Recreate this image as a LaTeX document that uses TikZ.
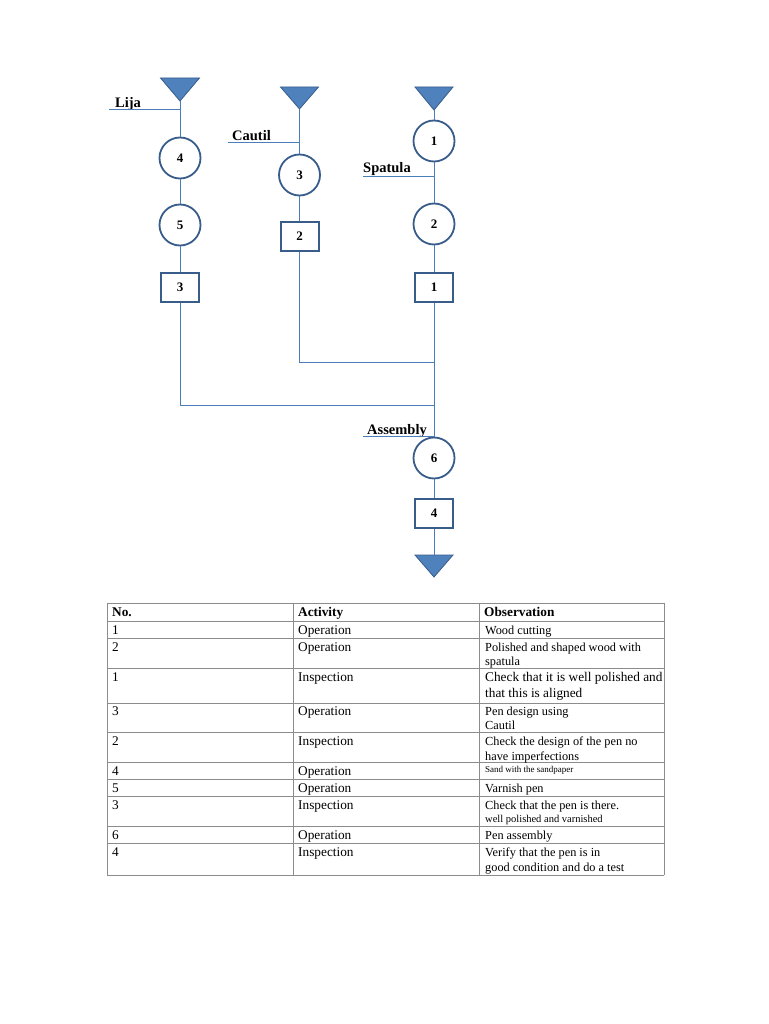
\documentclass[tikz,border=0pt]{standalone}
\usepackage{fontspec}
\setmainfont{Liberation Serif}
\definecolor{lineblue}{HTML}{4A7EBB}
\definecolor{darkblue}{HTML}{385D8A}
\definecolor{fillblue}{HTML}{4F81BD}
\definecolor{gridgray}{HTML}{8C8C8C}
\begin{document}
\begin{tikzpicture}[x=1pt,y=-1pt,
  conn/.style={draw=lineblue, line width=1pt},
  opcircle/.style={circle, draw=darkblue, line width=1.8pt, minimum size=41pt, inner sep=0pt, fill=white, font=\bfseries\fontsize{13}{15}\selectfont},
  inspbox/.style={rectangle, draw=darkblue, line width=2pt, minimum width=38pt, minimum height=29pt, inner sep=0pt, fill=white, font=\bfseries\fontsize{13}{15}\selectfont},
  storetri/.style={fill=fillblue, draw=darkblue, line width=0.8pt, line join=miter},
  lbl/.style={anchor=base west, inner sep=0pt, font=\bfseries\fontsize{14.5}{16}\selectfont},
  cell/.style={anchor=base west, inner sep=0pt, font=\fontsize{13.3}{15}\selectfont},
  obs/.style={anchor=base west, inner sep=0pt, font=\fontsize{12.3}{14}\selectfont},
  head/.style={cell, font=\bfseries\fontsize{13.3}{15}\selectfont},
  grid/.style={draw=gridgray, line width=0.9pt}
]
\useasboundingbox[fill=white] (0,0) rectangle (768,1024);

% ---------- storage triangles ----------
\fill[storetri] (160.5,78) -- (199.5,78) -- (180,101) -- cycle;
\coordinate (t1) at (180,101);
\fill[storetri] (280.5,87) -- (318.5,87) -- (299.5,109) -- cycle;
\coordinate (t2) at (299.5,109);
\fill[storetri] (415,87) -- (453,87) -- (434,110) -- cycle;
\coordinate (t3) at (434,110);
\fill[storetri] (415,555) -- (453,555) -- (434,577) -- cycle;
\coordinate (t4) at (434,555);

% ---------- symbols ----------
\node[opcircle] (c4) at (180,158) {4};
\node[opcircle] (c5) at (180,225) {5};
\node[inspbox]  (s3) at (180,287) {3};

\node[opcircle] (c3) at (299.5,175) {3};
\node[inspbox]  (s2) at (299.5,236.5) {2};

\node[opcircle] (c1) at (434,141) {1};
\node[opcircle] (c2) at (434,224) {2};
\node[inspbox]  (s1) at (434,287) {1};

\node[opcircle] (c6) at (434,458) {6};
\node[inspbox]  (s4) at (434,513.5) {4};

% ---------- junction coordinates ----------
\coordinate (j1) at (180,405);
\coordinate (j1r) at (434,405);
\coordinate (j2) at (299.5,362);
\coordinate (j2r) at (434,362);

% ---------- connectors ----------
\draw[conn] (t1) -- (c4.north);
\draw[conn] (c4.south) -- (c5.north);
\draw[conn] (c5.south) -- (s3.north);
\draw[conn] (s3.south) -- (j1) -- (j1r);

\draw[conn] (t2) -- (c3.north);
\draw[conn] (c3.south) -- (s2.north);
\draw[conn] (s2.south) -- (j2) -- (j2r);

\draw[conn] (t3) -- (c1.north);
\draw[conn] (c1.south) -- (c2.north);
\draw[conn] (c2.south) -- (s1.north);
\draw[conn] (s1.south) -- (c6.north);
\draw[conn] (c6.south) -- (s4.north);
\draw[conn] (s4.south) -- (t4);

% ---------- material labels ----------
\node[lbl] (lija) at (115,108) {Lija};
\coordinate (lijaA) at (109,110);
\coordinate (lijaB) at (180,110);
\draw[conn] (lijaA) -- (lijaB);

\node[lbl] (cautil) at (232,141) {Cautil};
\coordinate (cautilA) at (228,143);
\coordinate (cautilB) at (299.5,143);
\draw[conn] (cautilA) -- (cautilB);

\node[lbl] (spatula) at (363,173) {Spatula};
\coordinate (spatA) at (363,177);
\coordinate (spatB) at (434,177);
\draw[conn] (spatA) -- (spatB);

\node[lbl] (assembly) at (367,434) {Assembly};
\coordinate (asmA) at (363,436);
\coordinate (asmB) at (434,436);
\draw[conn] (asmA) -- (asmB);

% ---------- table ----------
\foreach \yy in {603,621,638,668,703,732,762,779,796,826,843,875}
  \draw[grid] (107,\yy) -- (664,\yy);
\foreach \xx in {107,293,479,664}
  \draw[grid] (\xx,603) -- (\xx,875);

\node[head] (h1) at (112,616) {No.};
\node[head] (h2) at (298,616) {Activity};
\node[head] (h3) at (484,616) {Observation};

\node[cell] (r1a) at (112,634) {1};
\node[cell] (r1b) at (298,634) {Operation};
\node[obs]  (r1c) at (485,634) {Wood cutting};

\node[cell] (r2a) at (112,651) {2};
\node[cell] (r2b) at (298,651) {Operation};
\node[obs]  (r2c) at (485,651) {Polished and shaped wood with};
\node[obs]  (r2d) at (485,665) {spatula};

\node[cell] (r3a) at (112,681) {1};
\node[cell] (r3b) at (298,681) {Inspection};
\node[cell] (r3c) at (485,681) {Check that it is well polished and};
\node[cell] (r3d) at (485,697) {that this is aligned};

\node[cell] (r4a) at (112,715) {3};
\node[cell] (r4b) at (298,715) {Operation};
\node[obs]  (r4c) at (485,715) {Pen design using};
\node[obs]  (r4d) at (485,729) {Cautil};

\node[cell] (r5a) at (112,745) {2};
\node[cell] (r5b) at (298,745) {Inspection};
\node[obs]  (r5c) at (485,745) {Check the design of the pen no};
\node[obs]  (r5d) at (485,760) {have imperfections};

\node[cell] (r6a) at (112,775) {4};
\node[cell] (r6b) at (298,775) {Operation};
\node[obs, font=\fontsize{9}{10}\selectfont] (r6c) at (485,772) {Sand with the sandpaper};

\node[cell] (r7a) at (112,792) {5};
\node[cell] (r7b) at (298,792) {Operation};
\node[obs]  (r7c) at (485,792) {Varnish pen};

\node[cell] (r8a) at (112,809) {3};
\node[cell] (r8b) at (298,809) {Inspection};
\node[obs]  (r8c) at (485,809) {Check that the pen is there.};
\node[obs, font=\fontsize{10.5}{12}\selectfont] (r8d) at (485,822) {well polished and varnished};

\node[cell] (r9a) at (112,839) {6};
\node[cell] (r9b) at (298,839) {Operation};
\node[obs]  (r9c) at (485,839) {Pen assembly};

\node[cell] (r10a) at (112,856) {4};
\node[cell] (r10b) at (298,856) {Inspection};
\node[obs]  (r10c) at (485,856) {Verify that the pen is in};
\node[obs]  (r10d) at (485,871) {good condition and do a test};
\end{tikzpicture}
\end{document}
